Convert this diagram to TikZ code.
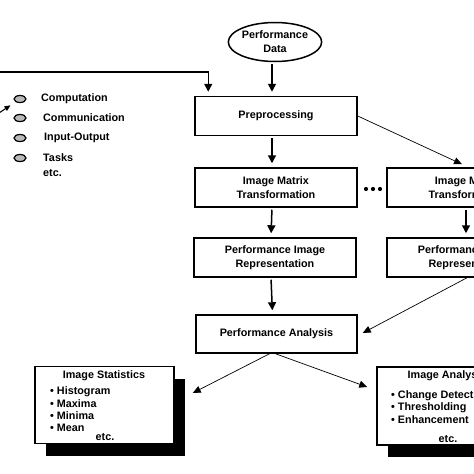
\documentclass[tikz,border=0pt]{standalone}
\usepackage{fontspec}
\setmainfont{Liberation Sans}
\usetikzlibrary{arrows.meta,shapes.geometric,shadows}
\begin{document}
\begin{tikzpicture}[x=1pt,y=-1pt,
  font=\fontsize{10.8}{14}\selectfont\bfseries,
  box/.style={draw,line width=1.5pt,minimum width=162pt,minimum height=39pt,align=center,inner sep=0pt},
  card/.style={draw,line width=1.5pt,fill=white,minimum width=139pt,minimum height=77pt,
    drop shadow={shadow xshift=11pt,shadow yshift=-12pt,fill=black,opacity=1}},
  marker/.style={ellipse,draw,line width=1.2pt,fill=gray!55,minimum width=12pt,minimum height=7pt,inner sep=0pt},
  arr/.style={line width=1.5pt,-{Triangle[length=8pt,width=8pt]},shorten >=4pt,shorten <=2pt},
  thinarr/.style={line width=.7pt,-{Triangle[length=8pt,width=7pt]}},
  list/.style={align=left,font=\fontsize{10.8}{12.4}\selectfont\bfseries}]
  \def\lx{276}\def\rx{468}
  \useasboundingbox (0,0) rectangle (474,474);
  \clip (0,0) rectangle (474,474);

  \node[ellipse,draw,line width=1.5pt,minimum width=91pt,minimum height=39pt,inner sep=0pt,align=center]
    (data) at (275,42) {Performance\\Data};
  \node[box] (pre)  at (\lx,116)   {Preprocessing};
  \node[box] (imt)  at (\lx,187.5) {Image Matrix\\Transformation};
  \node[box] (imt2) at (\rx,187.5) {Image Matrix\\Transformation};
  \node[box] (pir)  at (275,257.5) {Performance Image\\Representation};
  \node[box] (pir2) at (\rx,257.5) {Performance Image\\Representation};
  \node[box,minimum width=161pt,minimum height=38pt] (pa) at (276.5,334) {Performance Analysis};
  \foreach \d in {-7,0,7} \fill (373+\d,189) circle (2.1pt);

  \foreach \y/\x/\t in {99/41/Computation,118/43/Communication,138/44/Input-Output,158/43/Tasks}{
    \node[marker] (m\y) at (20,\y) {};
    \node[anchor=west,inner sep=0pt] (l\y) at (\x,\y) {\t};
  }
  \node[anchor=west,inner sep=0pt] (letc) at (43,173) {etc.};

  \node[card] (stats) at (104.5,405) {};
  \node (statstitle) at (104,376) {Image Statistics};
  \node[list,anchor=west,inner sep=0pt] (statslist) at (50,409.5) {• Histogram\\• Maxima\\• Minima\\• Mean};
  \node (statsetc) at (105,437) {etc.};

  \node[card,minimum height=78pt] (ana) at (446.5,406) {};
  \node (anatitle) at (447,376) {Image Analysis};
  \node[list,anchor=west,inner sep=0pt] (analist) at (391,407) {• Change Detection\\• Thresholding\\• Enhancement};
  \node (anaetc) at (448,439) {etc.};

  \coordinate (loop) at (-5,72);
  \coordinate (cue) at (-4,115);
  \draw[arr] (loop) -| ([xshift=14pt]pre.north west);
  \draw[line width=1pt,-{Triangle[length=6pt,width=5pt]},shorten >=6pt] (cue) -- (m99);
  \draw[arr] ([xshift=-3pt]data.south) -- ([xshift=-4pt]pre.north);
  \foreach \a/\b in {pre/imt,imt/pir,pir/pa}
    \draw[arr] ([xshift=-4pt]\a.south) -- ([xshift=-4pt]\b.north);
  \draw[arr] ([xshift=-2pt]imt2.south) -- ([xshift=-2pt]pir2.north);
  \draw[thinarr] (pre.east) -- ([xshift=-6pt,yshift=3pt]imt2.north);
  \draw[thinarr] ([xshift=-1pt]pir2.south) -- ([xshift=5pt,yshift=1pt]pa.east);
  \draw[thinarr] ([xshift=-7pt]pa.south) -- ([xshift=18pt,yshift=12pt]stats.east);
  \draw[thinarr] ([xshift=-1pt]pa.south) -- ([xshift=-9pt,yshift=19pt]ana.west);
\end{tikzpicture}
\end{document}
